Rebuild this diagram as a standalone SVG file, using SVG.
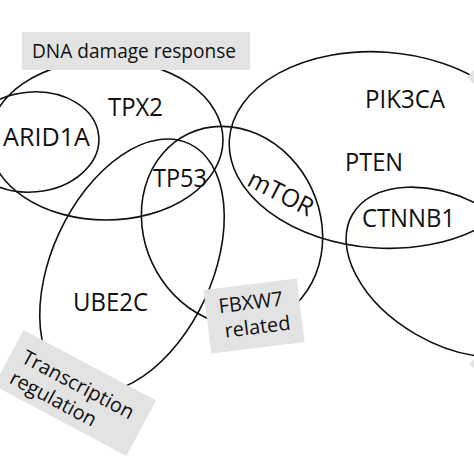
<svg xmlns="http://www.w3.org/2000/svg" width="474" height="474" viewBox="0 0 474 474">
<style>
.set{fill:none;stroke:#111;stroke-width:1.6}
.box{fill:#e3e3e3;stroke:none}
.gene{font-family:"Open Sans","Noto Sans",sans-serif;font-size:25px;fill:#111}
.lbl{font-family:"Open Sans","Noto Sans",sans-serif;font-size:20px;fill:#111}
</style>
<rect width="474" height="474" fill="#fff"/>
<g id="sets">
  <ellipse id="set-dna" class="set" cx="106" cy="140" rx="117" ry="80"/>
  <ellipse id="set-arid1a" class="set" cx="32" cy="142" rx="67" ry="50" transform="rotate(-5 32 142)"/>
  <ellipse id="set-transcription" class="set" cx="132" cy="266" rx="135" ry="80" transform="rotate(-65 132 266)"/>
  <ellipse id="set-fbxw7" class="set" cx="232" cy="226" rx="88" ry="102" transform="rotate(-25 232 226)"/>
  <ellipse id="set-pik3ca" class="set" cx="380" cy="150" rx="151" ry="98" transform="rotate(4 380 150)"/>
  <ellipse id="set-ctnnb1" class="set" cx="452" cy="272" rx="115" ry="72" transform="rotate(30 452 272)"/>
</g>
<g id="label-dna">
  <rect class="box" x="22" y="32" width="228" height="38"/>
  <text class="lbl" x="32" y="58" font-size="19" textLength="204" lengthAdjust="spacingAndGlyphs">DNA damage response</text>
</g>
<g id="label-transcription" transform="translate(75 393) rotate(28)">
  <rect class="box" x="-75" y="-31.5" width="150" height="63"/>
  <text class="lbl" x="-63" y="-2">Transcription</text>
  <text class="lbl" x="-64" y="22">regulation</text>
</g>
<g id="label-fbxw7" transform="translate(254 316) rotate(-7)">
  <rect class="box" x="-47" y="-32" width="94" height="64"/>
  <text class="lbl" x="-34" y="-7">FBXW7</text>
  <text class="lbl" x="-31" y="18">related</text>
</g>
<g id="label-edge-top">
  <polygon class="box" points="467,77 474,70 474,84"/>
</g>
<g id="label-edge-bottom">
  <polygon class="box" points="469,364 474,359 474,368"/>
</g>
<g id="node-tpx2"><text class="gene" x="108" y="116" textLength="55" lengthAdjust="spacingAndGlyphs">TPX2</text></g>
<g id="node-arid1a"><text class="gene" x="3" y="146" textLength="87" lengthAdjust="spacingAndGlyphs">ARID1A</text></g>
<g id="node-tp53"><text class="gene" x="153" y="187" textLength="54" lengthAdjust="spacingAndGlyphs">TP53</text></g>
<g id="node-mtor"><text class="gene" x="242" y="201" textLength="70" lengthAdjust="spacingAndGlyphs" transform="rotate(27 277 201)">mTOR</text></g>
<g id="node-pik3ca"><text class="gene" x="365" y="108" textLength="80" lengthAdjust="spacingAndGlyphs">PIK3CA</text></g>
<g id="node-pten"><text class="gene" x="345" y="171" textLength="58" lengthAdjust="spacingAndGlyphs">PTEN</text></g>
<g id="node-ctnnb1"><text class="gene" x="362" y="227" textLength="93" lengthAdjust="spacingAndGlyphs">CTNNB1</text></g>
<g id="node-ube2c"><text class="gene" x="73" y="311" textLength="75" lengthAdjust="spacingAndGlyphs">UBE2C</text></g>
</svg>
